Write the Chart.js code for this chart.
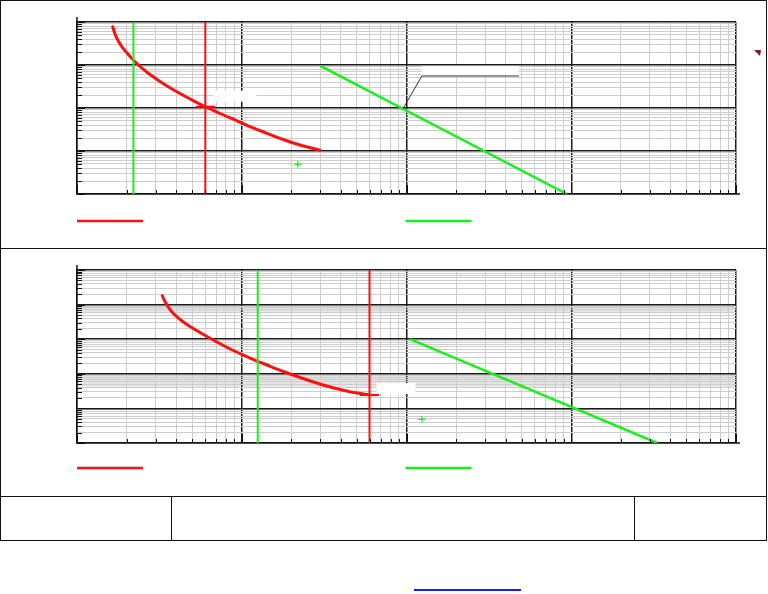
<!DOCTYPE html>
<html>
<head>
<meta charset="utf-8">
<script src="https://cdn.jsdelivr.net/npm/chart.js@4.4.1/dist/chart.umd.min.js"></script>
<style>
  body { margin: 0; background: #fff; width: 768px; height: 594px; position: relative; overflow: hidden; font-family: "Liberation Sans", Arial, sans-serif; }
  .abs { position: absolute; }
  #frame { left: 0; top: 0; width: 767px; height: 541px; border: 1px solid #111; box-sizing: border-box; }
  .hline { height: 0; border-top: 1px solid #111; }
  .vline { width: 0; border-left: 1px solid #111; }
  #link { left: 414px; top: 589px; width: 107px; height: 0; border-top: 2px solid #1a1aff; }
</style>
</head>
<body>
<div id="frame" class="abs"></div>
<div class="abs hline" style="left:0;top:248px;width:767px"></div>
<div class="abs hline" style="left:0;top:496px;width:767px"></div>
<div class="abs vline" style="left:171px;top:496px;height:44px"></div>
<div class="abs vline" style="left:634px;top:496px;height:44px"></div>
<canvas id="topChart" class="abs" style="left:0;top:0"></canvas>
<canvas id="bottomChart" class="abs" style="left:0;top:249px"></canvas>
<div id="link" class="abs"></div>

<script>
// eixos (decadas)
const xDecades = [1, 10, 100, 1000, 10000];
const topYDecades = [1, 10, 100, 1000, 10000];
const bottomYDecades = [1, 10, 100, 1000, 10000, 100000];

// grafico de cima
const topRedX = [1.647, 1.701, 1.774, 1.876, 2.012, 2.197, 2.413, 2.698, 3.06, 3.518, 4.22, 5.039, 6.009, 7.379, 9.10, 11.22, 13.84, 17.8, 22.57, 29.85];
const topRedY = [7780, 5260, 3715, 2624, 1901, 1307, 923, 651, 460, 325, 217, 151, 107.2, 74.5, 52.6, 37.1, 26.9, 18.5, 13.79, 10.38];
const topGreenX = [30, 940];
const topGreenY = [950, 1];
const topRedCut = 6.009;
const topRedMark = 107.2;
const topGreenCut = 2.2;
const topPlusX = 21.9;
const topPlusY = 4.9;

// grafico de baixo
const bottomRedX = [3.294, 3.374, 3.469, 3.593, 3.772, 4.029, 4.339, 4.852, 5.579, 6.881, 8.887, 11.22, 14.23, 17.87, 22.58, 28.5, 35.81, 45.4, 59.63];
const bottomRedY = [18080, 14030, 10910, 8350, 6150, 4470, 3357, 2328, 1562, 887, 471, 286, 179.6, 116.5, 78.2, 54.2, 39.4, 30.2, 24.4];
const bottomGreenX = [105, 3320];
const bottomGreenY = [1000, 1];
const bottomRedCut = 59.63;
const bottomRedMark = 24.4;
const bottomGreenCut = 12.5;
const bottomPlusX = 124;
const bottomPlusY = 4.84;

const RED = "#ff1010";
const GREEN = "#19f019";

function logTicks(decades) {
  const t = [];
  decades.forEach((d, i) => {
    t.push(d);
    if (i < decades.length - 1) {
      for (let k = 2; k <= 9; k++) t.push(d * k);
    }
  });
  return t;
}

function isDecade(v) {
  const l = Math.log10(v);
  return Math.abs(l - Math.round(l)) < 1e-9;
}

function toPoints(xs, ys) {
  return xs.map((x, i) => ({ x: x, y: ys[i] }));
}

// faixas cinza, caixas brancas, ticks internos, legenda, linha de chamada
const decor = {
  id: "decor",
  beforeDraw(chart, args, opts) {
    if (!opts.bands) return;
    const ctx = chart.ctx;
    const a = chart.chartArea;
    const sy = chart.scales.y;
    ctx.save();
    ctx.fillStyle = "#e4e4e4";
    opts.bands.forEach(b => {
      const y1 = sy.getPixelForValue(b.from);
      const y2 = sy.getPixelForValue(b.to);
      ctx.fillRect(a.left, y1, a.right - a.left, y2 - y1);
    });
    ctx.restore();
  },
  beforeDatasetsDraw(chart, args, opts) {
    const ctx = chart.ctx;
    const sx = chart.scales.x, sy = chart.scales.y;
    ctx.save();
    ctx.fillStyle = "#fff";
    (opts.boxes || []).forEach(b => {
      const px = sx.getPixelForValue(b.x);
      const py = sy.getPixelForValue(b.y);
      ctx.fillRect(px + b.dx, py + b.dy, b.w, b.h);
    });
    ctx.restore();
  },
  afterDraw(chart, args, opts) {
    const ctx = chart.ctx;
    const a = chart.chartArea;
    const sx = chart.scales.x, sy = chart.scales.y;
    ctx.save();
    ctx.strokeStyle = "#111";
    ctx.lineWidth = 1;
    ctx.beginPath();
    sx.ticks.forEach(t => {
      const px = Math.round(sx.getPixelForValue(t.value)) + 0.5;
      const len = isDecade(t.value) ? 9 : 4;
      ctx.moveTo(px, a.bottom);
      ctx.lineTo(px, a.bottom - len);
    });
    sy.ticks.forEach(t => {
      const py = Math.round(sy.getPixelForValue(t.value)) + 0.5;
      const len = isDecade(t.value) ? 8 : 5;
      ctx.moveTo(a.left, py);
      ctx.lineTo(a.left + len, py);
    });
    ctx.stroke();

    // prolongamento dos eixos
    ctx.lineWidth = 1.5;
    ctx.beginPath();
    ctx.moveTo(a.left, a.top - 5);
    ctx.lineTo(a.left, a.top);
    ctx.moveTo(a.right, a.bottom);
    ctx.lineTo(a.right + 4, a.bottom);
    ctx.stroke();

    // linha de chamada
    if (opts.leader) {
      const L = opts.leader;
      const px = sx.getPixelForValue(L.x);
      const py = sy.getPixelForValue(L.y);
      ctx.fillStyle = "#fff";
      ctx.fillRect(px + L.dx, py + L.dy - 10, L.len, 10);
      ctx.strokeStyle = "#333";
      ctx.lineWidth = 1;
      ctx.beginPath();
      ctx.moveTo(px, py);
      ctx.lineTo(px + L.dx, py + L.dy);
      ctx.lineTo(px + L.dx + L.len, py + L.dy);
      ctx.stroke();
    }

    // legenda
    ctx.lineWidth = 2.5;
    ctx.strokeStyle = RED;
    ctx.beginPath();
    ctx.moveTo(a.left, opts.legendY);
    ctx.lineTo(a.left + 66, opts.legendY);
    ctx.stroke();
    ctx.strokeStyle = GREEN;
    ctx.beginPath();
    const mid = (a.left + a.right) / 2 - 1;
    ctx.moveTo(mid, opts.legendY);
    ctx.lineTo(mid + 66, opts.legendY);
    ctx.stroke();

    if (opts.triangle) {
      ctx.fillStyle = "#8b1414";
      ctx.beginPath();
      ctx.moveTo(754, 50);
      ctx.lineTo(761, 50);
      ctx.lineTo(760, 56);
      ctx.closePath();
      ctx.fill();
    }
    ctx.restore();
  }
};

function makeChart(id, height, pad, yDecades, d, decorOpts) {
  const canvas = document.getElementById(id);
  canvas.width = 768;
  canvas.height = height;
  const xTicks = logTicks(xDecades);
  const yTicks = logTicks(yDecades);
  const gridOpts = {
    color: c => (c.tick && isDecade(c.tick.value)) ? "#1a1a1a" : "#cdcdcd",
    lineWidth: c => (c.tick && isDecade(c.tick.value)) ? 1.5 : 1,
    drawTicks: false
  };
  const yMin = yDecades[0], yMax = yDecades[yDecades.length - 1];
  return new Chart(canvas, {
    type: "line",
    data: {
      datasets: [
        { data: [{ x: d.greenCut, y: yMin }, { x: d.greenCut, y: yMax }], borderColor: GREEN, borderWidth: 2, pointRadius: 0 },
        { data: [{ x: d.redCut, y: yMin }, { x: d.redCut, y: yMax }], borderColor: RED, borderWidth: 2, pointRadius: 0 },
        { data: toPoints(d.redX, d.redY), borderColor: RED, borderWidth: 3, pointRadius: 0, cubicInterpolationMode: "monotone", borderCapStyle: "round" },
        { data: toPoints(d.greenX, d.greenY), borderColor: GREEN, borderWidth: 2.5, pointRadius: 0 },
        { data: [{ x: d.redCut, y: d.redMark }], showLine: false, pointStyle: "line", pointRadius: 9.5, pointBorderWidth: 2, borderColor: RED },
        { data: [{ x: d.plusX, y: d.plusY }], showLine: false, pointStyle: "cross", pointRadius: 3.5, pointBorderWidth: 1.2, borderColor: GREEN }
      ]
    },
    options: {
      responsive: false,
      animation: false,
      devicePixelRatio: 1,
      layout: { padding: pad },
      plugins: {
        legend: { display: false },
        tooltip: { enabled: false },
        decor: decorOpts
      },
      scales: {
        x: {
          type: "logarithmic",
          min: xDecades[0],
          max: xDecades[xDecades.length - 1],
          afterBuildTicks: s => { s.ticks = xTicks.map(v => ({ value: v })); },
          ticks: { display: false },
          grid: gridOpts,
          border: { display: true, color: "#111", width: 1.5 }
        },
        y: {
          type: "logarithmic",
          min: yMin,
          max: yMax,
          afterBuildTicks: s => { s.ticks = yTicks.map(v => ({ value: v })); },
          ticks: { display: false },
          grid: gridOpts,
          border: { display: true, color: "#111", width: 1.5 }
        }
      }
    },
    plugins: [decor]
  });
}

makeChart("topChart", 248, { left: 77, right: 32, top: 22, bottom: 54 }, topYDecades, {
  redX: topRedX, redY: topRedY, greenX: topGreenX, greenY: topGreenY,
  redCut: topRedCut, redMark: topRedMark, greenCut: topGreenCut, plusX: topPlusX, plusY: topPlusY
}, {
  boxes: [{ x: topRedCut, y: topRedMark, dx: 8, dy: -16, w: 43, h: 11 }],
  leader: { x: 95, y: 95, dx: 19, dy: -33, len: 97 },
  legendY: 221,
  triangle: true
});

makeChart("bottomChart", 247, { left: 77, right: 32, top: 21, bottom: 53 }, bottomYDecades, {
  redX: bottomRedX, redY: bottomRedY, greenX: bottomGreenX, greenY: bottomGreenY,
  redCut: bottomRedCut, redMark: bottomRedMark, greenCut: bottomGreenCut, plusX: bottomPlusX, plusY: bottomPlusY
}, {
  bands: [{ from: 10000, to: 5600 }, { from: 100, to: 42 }],
  boxes: [{ x: bottomRedCut, y: bottomRedMark, dx: 7, dy: -12, w: 39, h: 11 }],
  legendY: 219,
  triangle: false
});
</script>
</body>
</html>
